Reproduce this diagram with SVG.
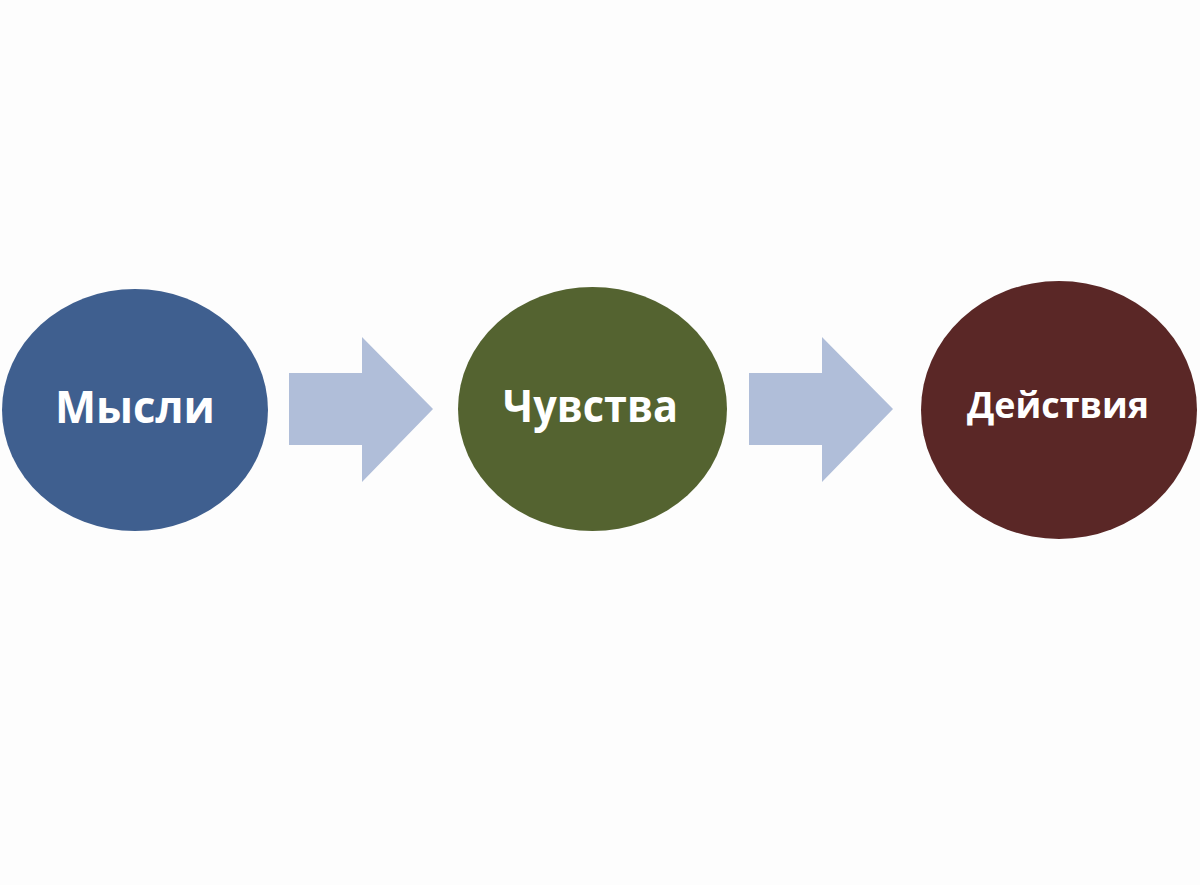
<svg xmlns="http://www.w3.org/2000/svg" width="1200" height="885" viewBox="0 0 1200 885">
<style>
.lbl{font-family:"Open Sans","Noto Sans","DejaVu Sans",sans-serif;font-weight:bold;fill:#ffffff;text-anchor:middle}
.arr{fill:#B0BED9}
</style>
<rect width="1200" height="885" fill="#FDFDFD"/>
<g id="connectors">
<polygon class="arr" points="289,373 362,373 362,337 433,409 362,482 362,445 289,445"/>
<polygon class="arr" points="749,373 822,373 822,337 893,409 822,482 822,445 749,445"/>
</g>
<g id="node-mysli">
<ellipse cx="135" cy="410" rx="133" ry="121" fill="#3F5F8F"/>
<text class="lbl" x="135" y="423" font-size="45" textLength="160" lengthAdjust="spacingAndGlyphs">Мысли</text>
</g>
<g id="node-chuvstva">
<ellipse cx="592.5" cy="409" rx="134.5" ry="122" fill="#546330"/>
<text class="lbl" x="590.5" y="422" font-size="45" textLength="175" lengthAdjust="spacingAndGlyphs">Чувства</text>
</g>
<g id="node-deistviya">
<ellipse cx="1059" cy="410" rx="138" ry="129" fill="#5A2726"/>
<text class="lbl" x="1058" y="418" font-size="35" textLength="182" lengthAdjust="spacingAndGlyphs">Действия</text>
</g>
</svg>
